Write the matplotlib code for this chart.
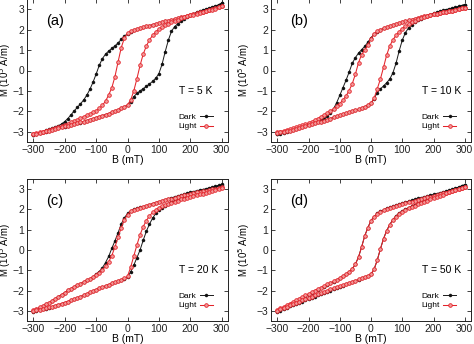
import numpy as np
import matplotlib
matplotlib.use("Agg")
import matplotlib.pyplot as plt

plt.rcParams['font.family'] = ['Liberation Sans', 'DejaVu Sans']

# Applied field grid (mT), shared by every branch
field = np.arange(-300, 301, 10)

# Magnetisation (10^5 A/m); "up" = descending-field branch, "lo" = ascending-field branch,
# both listed in order of increasing field
dark_up_a = [-3.15, -3.10, -3.05, -2.99, -2.93, -2.88, -2.82, -2.76, -2.70, -2.62,
             -2.50, -2.35, -2.17, -1.98, -1.81, -1.64, -1.45, -1.22, -0.93, -0.58,
             -0.18, 0.25, 0.58, 0.80, 0.95, 1.08, 1.20, 1.35, 1.52, 1.68,
             1.80, 1.90, 1.97, 2.03, 2.08, 2.12, 2.16, 2.20, 2.24, 2.28,
             2.32, 2.36, 2.40, 2.44, 2.48, 2.52, 2.56, 2.60, 2.64, 2.68,
             2.72, 2.76, 2.80, 2.84, 2.88, 2.93, 2.98, 3.04, 3.11, 3.19, 3.28]
dark_lo_a = [-3.15, -3.11, -3.07, -3.03, -2.99, -2.95, -2.91, -2.87, -2.83, -2.79,
             -2.75, -2.71, -2.67, -2.63, -2.59, -2.55, -2.51, -2.46, -2.41, -2.36,
             -2.31, -2.26, -2.21, -2.16, -2.11, -2.05, -1.99, -1.92, -1.85, -1.78,
             -1.70, -1.52, -1.28, -1.12, -1.00, -0.89, -0.78, -0.66, -0.53, -0.38,
             -0.15, 0.30, 0.92, 1.48, 1.92, 2.15, 2.28, 2.40, 2.51, 2.61,
             2.70, 2.78, 2.85, 2.91, 2.96, 3.01, 3.06, 3.11, 3.16, 3.22, 3.28]
light_up_a = [-3.10, -3.07, -3.03, -2.99, -2.95, -2.91, -2.87, -2.82, -2.77, -2.72,
              -2.67, -2.61, -2.54, -2.47, -2.40, -2.33, -2.26, -2.19, -2.12, -2.05,
              -1.97, -1.86, -1.71, -1.50, -1.20, -0.85, -0.30, 0.42, 1.12, 1.58,
              1.82, 1.92, 1.98, 2.03, 2.08, 2.12, 2.16, 2.20, 2.24, 2.28,
              2.32, 2.36, 2.40, 2.44, 2.48, 2.52, 2.56, 2.60, 2.64, 2.68,
              2.72, 2.76, 2.80, 2.84, 2.88, 2.92, 2.96, 3.01, 3.06, 3.11, 3.17]
light_lo_a = [-3.12, -3.09, -3.06, -3.02, -2.98, -2.94, -2.90, -2.86, -2.82, -2.78,
              -2.74, -2.70, -2.66, -2.62, -2.58, -2.54, -2.50, -2.46, -2.41, -2.36,
              -2.31, -2.26, -2.21, -2.16, -2.11, -2.05, -1.99, -1.92, -1.85, -1.78,
              -1.68, -1.45, -1.00, -0.40, 0.25, 0.80, 1.20, 1.50, 1.72, 1.89,
              2.02, 2.12, 2.21, 2.29, 2.36, 2.43, 2.49, 2.55, 2.60, 2.65,
              2.70, 2.74, 2.78, 2.82, 2.86, 2.90, 2.94, 2.98, 3.03, 3.09, 3.16]

dark_up_b = [-3.12, -3.08, -3.03, -2.98, -2.93, -2.88, -2.83, -2.78, -2.73, -2.68,
             -2.63, -2.58, -2.53, -2.48, -2.42, -2.35, -2.25, -2.10, -1.88, -1.58,
             -1.22, -0.85, -0.48, -0.08, 0.35, 0.63, 0.85, 1.02, 1.18, 1.38,
             1.60, 1.78, 1.90, 1.99, 2.06, 2.12, 2.18, 2.23, 2.28, 2.33,
             2.37, 2.41, 2.45, 2.49, 2.53, 2.57, 2.61, 2.65, 2.69, 2.73,
             2.77, 2.81, 2.85, 2.89, 2.93, 2.97, 3.01, 3.05, 3.10, 3.16, 3.22]
dark_lo_b = [-3.12, -3.09, -3.05, -3.01, -2.97, -2.93, -2.88, -2.83, -2.78, -2.73,
             -2.68, -2.63, -2.59, -2.54, -2.50, -2.45, -2.40, -2.35, -2.30, -2.25,
             -2.20, -2.15, -2.10, -2.05, -2.00, -1.95, -1.90, -1.84, -1.78, -1.70,
             -1.60, -1.38, -1.08, -0.90, -0.76, -0.60, -0.42, -0.12, 0.35, 0.95,
             1.48, 1.85, 2.08, 2.24, 2.36, 2.46, 2.54, 2.61, 2.68, 2.74,
             2.80, 2.85, 2.90, 2.94, 2.98, 3.02, 3.06, 3.10, 3.14, 3.18, 3.22]
light_up_b = [-3.03, -2.99, -2.95, -2.91, -2.87, -2.83, -2.79, -2.74, -2.69, -2.63,
              -2.57, -2.50, -2.43, -2.35, -2.26, -2.17, -2.08, -1.98, -1.88, -1.76,
              -1.62, -1.45, -1.25, -0.98, -0.65, -0.18, 0.38, 0.78, 1.00, 1.27,
              1.56, 1.78, 1.91, 1.99, 2.06, 2.12, 2.18, 2.23, 2.28, 2.33,
              2.37, 2.41, 2.45, 2.49, 2.53, 2.57, 2.61, 2.65, 2.69, 2.72,
              2.75, 2.78, 2.81, 2.84, 2.87, 2.90, 2.93, 2.97, 3.01, 3.05, 3.08]
light_lo_b = [-3.06, -3.03, -3.00, -2.97, -2.94, -2.91, -2.87, -2.83, -2.78, -2.73,
              -2.68, -2.63, -2.59, -2.54, -2.50, -2.45, -2.40, -2.35, -2.30, -2.25,
              -2.20, -2.15, -2.10, -2.05, -2.00, -1.95, -1.90, -1.84, -1.78, -1.70,
              -1.60, -1.35, -0.90, -0.42, 0.15, 0.75, 1.20, 1.50, 1.72, 1.90,
              2.05, 2.17, 2.27, 2.36, 2.44, 2.50, 2.56, 2.62, 2.67, 2.71,
              2.75, 2.78, 2.81, 2.84, 2.87, 2.90, 2.93, 2.97, 3.01, 3.05, 3.08]

dark_up_c = [-3.00, -2.92, -2.84, -2.76, -2.68, -2.60, -2.50, -2.40, -2.30, -2.20,
             -2.10, -1.99, -1.90, -1.81, -1.74, -1.66, -1.58, -1.50, -1.42, -1.32,
             -1.20, -1.06, -0.88, -0.62, -0.32, 0.08, 0.45, 0.85, 1.28, 1.58,
             1.80, 1.92, 2.00, 2.05, 2.10, 2.14, 2.19, 2.24, 2.29, 2.34,
             2.38, 2.43, 2.48, 2.53, 2.57, 2.62, 2.66, 2.71, 2.75, 2.80,
             2.84, 2.88, 2.92, 2.95, 2.98, 3.02, 3.06, 3.10, 3.14, 3.18, 3.23]
dark_lo_c = [-3.05, -3.01, -2.97, -2.93, -2.89, -2.85, -2.80, -2.75, -2.70, -2.65,
             -2.60, -2.54, -2.48, -2.42, -2.36, -2.30, -2.23, -2.16, -2.09, -2.02,
             -1.95, -1.89, -1.83, -1.77, -1.71, -1.65, -1.59, -1.53, -1.47, -1.41,
             -1.35, -1.08, -0.75, -0.38, 0.00, 0.48, 0.92, 1.28, 1.57, 1.80,
             1.97, 2.09, 2.19, 2.28, 2.36, 2.43, 2.50, 2.57, 2.63, 2.69,
             2.75, 2.80, 2.85, 2.89, 2.94, 2.98, 3.02, 3.07, 3.11, 3.16, 3.20]
light_up_c = [-2.98, -2.91, -2.83, -2.75, -2.67, -2.59, -2.50, -2.40, -2.30, -2.20,
              -2.10, -1.99, -1.90, -1.81, -1.74, -1.66, -1.58, -1.50, -1.42, -1.33,
              -1.24, -1.13, -0.98, -0.80, -0.58, -0.28, 0.15, 0.62, 1.10, 1.48,
              1.75, 1.90, 1.98, 2.04, 2.09, 2.13, 2.18, 2.23, 2.28, 2.33,
              2.37, 2.41, 2.45, 2.49, 2.53, 2.57, 2.61, 2.65, 2.69, 2.73,
              2.77, 2.80, 2.84, 2.87, 2.90, 2.93, 2.96, 2.99, 3.02, 3.05, 3.09]
light_lo_c = [-3.02, -2.98, -2.95, -2.91, -2.87, -2.83, -2.79, -2.74, -2.69, -2.64,
              -2.59, -2.54, -2.48, -2.42, -2.36, -2.30, -2.23, -2.16, -2.09, -2.02,
              -1.95, -1.89, -1.83, -1.77, -1.71, -1.65, -1.59, -1.53, -1.47, -1.40,
              -1.30, -0.85, -0.30, 0.25, 0.75, 1.15, 1.45, 1.68, 1.85, 1.98,
              2.08, 2.16, 2.23, 2.29, 2.34, 2.39, 2.44, 2.49, 2.53, 2.58,
              2.62, 2.66, 2.70, 2.74, 2.78, 2.82, 2.86, 2.91, 2.96, 3.01, 3.07]

dark_up_d = [-3.02, -2.93, -2.84, -2.76, -2.68, -2.60, -2.52, -2.44, -2.36, -2.28,
             -2.20, -2.12, -2.04, -1.96, -1.88, -1.80, -1.72, -1.64, -1.56, -1.48,
             -1.40, -1.30, -1.20, -1.08, -0.93, -0.70, -0.35, 0.15, 0.70, 1.10,
             1.45, 1.65, 1.80, 1.90, 1.98, 2.05, 2.11, 2.16, 2.21, 2.26,
             2.31, 2.36, 2.40, 2.45, 2.49, 2.54, 2.58, 2.62, 2.66, 2.70,
             2.74, 2.78, 2.82, 2.86, 2.90, 2.94, 2.99, 3.04, 3.10, 3.16, 3.22]
dark_lo_d = [-3.08, -3.00, -2.92, -2.85, -2.78, -2.72, -2.66, -2.60, -2.54, -2.48,
             -2.42, -2.36, -2.30, -2.24, -2.18, -2.12, -2.06, -2.00, -1.94, -1.88,
             -1.82, -1.76, -1.70, -1.64, -1.58, -1.52, -1.46, -1.40, -1.34, -1.28,
             -1.20, -0.95, -0.50, 0.05, 0.55, 0.95, 1.25, 1.50, 1.68, 1.82,
             1.92, 2.01, 2.09, 2.16, 2.23, 2.30, 2.36, 2.42, 2.48, 2.54,
             2.60, 2.66, 2.72, 2.78, 2.84, 2.90, 2.96, 3.02, 3.08, 3.14, 3.20]
light_up_d = [-2.96, -2.88, -2.80, -2.72, -2.64, -2.56, -2.48, -2.40, -2.32, -2.24,
              -2.16, -2.08, -2.00, -1.92, -1.85, -1.78, -1.70, -1.62, -1.54, -1.47,
              -1.39, -1.30, -1.20, -1.08, -0.93, -0.70, -0.35, 0.15, 0.70, 1.10,
              1.45, 1.63, 1.77, 1.87, 1.95, 2.02, 2.08, 2.13, 2.18, 2.23,
              2.27, 2.31, 2.35, 2.39, 2.43, 2.47, 2.51, 2.55, 2.59, 2.63,
              2.67, 2.71, 2.75, 2.79, 2.83, 2.87, 2.91, 2.96, 3.01, 3.06, 3.11]
light_lo_d = [-3.00, -2.93, -2.86, -2.79, -2.72, -2.66, -2.60, -2.54, -2.48, -2.42,
              -2.36, -2.30, -2.24, -2.18, -2.12, -2.06, -2.00, -1.94, -1.88, -1.82,
              -1.77, -1.72, -1.67, -1.62, -1.57, -1.51, -1.45, -1.39, -1.33, -1.27,
              -1.19, -0.93, -0.50, 0.05, 0.55, 0.95, 1.25, 1.48, 1.65, 1.78,
              1.88, 1.97, 2.05, 2.12, 2.19, 2.26, 2.32, 2.38, 2.44, 2.50,
              2.56, 2.62, 2.68, 2.73, 2.79, 2.84, 2.89, 2.95, 3.00, 3.05, 3.10]

panel_labels = ["(a)", "(b)", "(c)", "(d)"]
temperatures = ["T = 5 K", "T = 10 K", "T = 20 K", "T = 50 K"]
x_ticks = [-300, -200, -100, 0, 100, 200, 300]
y_ticks = [-3, -2, -1, 0, 1, 2, 3]

panels = [
    (dark_up_a, dark_lo_a, light_up_a, light_lo_a),
    (dark_up_b, dark_lo_b, light_up_b, light_lo_b),
    (dark_up_c, dark_lo_c, light_up_c, light_lo_c),
    (dark_up_d, dark_lo_d, light_up_d, light_lo_d),
]

W, H = 474, 344
fig = plt.figure(figsize=(W / 100, H / 100), dpi=100)

# axes boxes in pixels: left, top, right, bottom
boxes = [(27, -1, 228, 142), (271, -1, 471, 142),
         (27, 179, 228, 321), (271, 179, 471, 321)]
# y-label anchor (right edge of the rotated text) in axes fraction
ylabel_x = [-0.07, -0.094, -0.07, -0.094]

red = "#e3232a"


def loop(up, lo):
    """Join descending and ascending branches into one closed sweep."""
    b = np.concatenate([field[::-1], field])
    m = np.concatenate([np.asarray(up)[::-1], np.asarray(lo)])
    return b, m


for i, (box, data) in enumerate(zip(boxes, panels)):
    l, t, r, btm = box
    ax = fig.add_axes([l / W, (H - btm) / H, (r - l) / W, (btm - t) / H])
    d_up, d_lo, l_up, l_lo = data

    bx, mx = loop(d_up, d_lo)
    ax.plot(bx, mx, color="#1a1a1a", lw=0.7, marker="o", ms=2.2,
            mfc="#111111", mec="#111111", mew=0.3, label="Dark")
    bx, mx = loop(l_up, l_lo)
    ax.plot(bx, mx, color=red, lw=0.75, marker="o", ms=2.6,
            mfc="#f29a9a", mec=red, mew=0.6, label="Light")

    ax.set_xlim(-320, 320)
    ax.set_ylim(-3.5, 3.5)
    ax.set_xticks(x_ticks)
    ax.set_yticks(y_ticks)
    ax.tick_params(direction="in", length=3, width=0.6, labelsize=7.5,
                   top=True, right=True, pad=2.5, colors="#222222")
    ax.tick_params(axis="y", pad=1.8)
    for s in ax.spines.values():
        s.set_linewidth(0.7)
        s.set_color("#222222")

    ax.set_xlabel("B (mT)", fontsize=7.5, labelpad=0)
    ax.set_ylabel("M (10$^5$ A/m)", fontsize=6.9)
    ax.yaxis.set_label_coords(ylabel_x[i], 0.5)

    ax.text(0.14, 0.845, panel_labels[i], transform=ax.transAxes,
            fontsize=10.5, ha="center", va="center")
    ax.text(0.755, 0.357, temperatures[i], transform=ax.transAxes,
            fontsize=7.5, ha="left", va="center")

    ax.legend(loc="lower right", bbox_to_anchor=(0.955, 0.04),
              frameon=False, fontsize=6, markerfirst=False,
              handlelength=1.6, handletextpad=0.4, labelspacing=0.2,
              borderpad=0.2)

fig.savefig("out.png", dpi=100)
